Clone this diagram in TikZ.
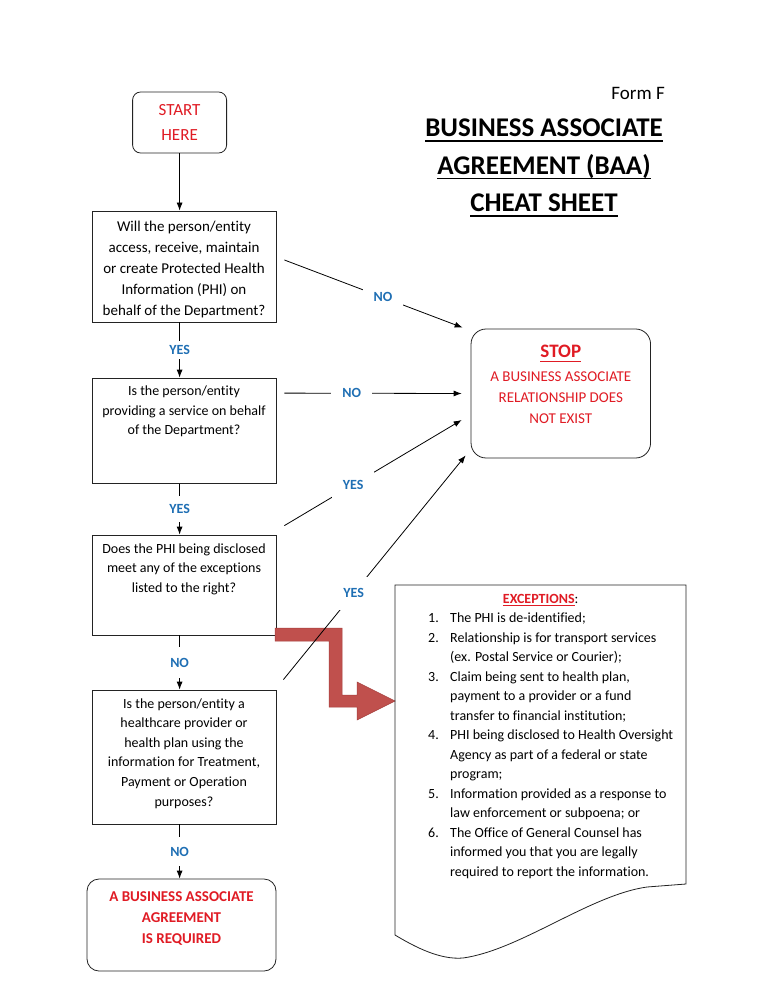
\documentclass[tikz,border=0pt]{standalone}
\usepackage{fontspec}
\setmainfont{Carlito}[Ligatures=NoCommon]
\usetikzlibrary{arrows.meta}
\definecolor{txtred}{RGB}{224,27,36}
\definecolor{lblblue}{RGB}{31,111,180}
\definecolor{arrred}{RGB}{192,80,77}
\definecolor{arrredd}{RGB}{165,62,60}
\definecolor{edge}{RGB}{35,35,35}
\newcommand\myul[3]{\leavevmode\setbox0\hbox{#3}\rlap{\rule[-#1]{\wd0}{#2}}\box0}
\newcommand\bxt[4]{\parbox[c][#1][t]{#2}{\centering\vspace*{#3}\strut#4}}
\newcommand\itm[2]{\mbox{\hspace*{33pt}\makebox[22pt][l]{#1}#2}}
\newcommand\cnt[1]{\mbox{\hspace*{55pt}#1}}
\begin{document}
\begin{tikzpicture}[x=1pt,y=-1pt,
  box/.style={draw=edge, line width=0.8pt, inner sep=0pt, fill=white},
  rbox/.style={box, rounded corners=#1},
  arr/.style={draw=black, line width=0.8pt, -{Latex[length=8pt,width=6pt]}},
  lbl/.style={fill=white, text=lblblue, font=\fontsize{14}{16}\selectfont\bfseries, inner xsep=2pt, inner ysep=4pt}
]
\useasboundingbox[fill=white] (0,0) rectangle (773,1000);

% title
\node[anchor=base east, inner sep=0pt, font=\fontsize{19}{23}\selectfont] (form) at (665,100) {Form F};
\node[anchor=base, inner sep=0pt, font=\fontsize{27}{37.5}\selectfont\bfseries] (title) at (544,137)
  {\parbox[t]{320pt}{\centering\myul{4.9pt}{1.8pt}{BUSINESS ASSOCIATE}\\\myul{4.9pt}{1.8pt}{AGREEMENT (BAA)}\\\myul{4.9pt}{1.8pt}{CHEAT SHEET}}};

% flow boxes
\node[rbox=8pt, font=\fontsize{17}{24.7}\selectfont, text=txtred] (start) at (179.6,122.5)
  {\bxt{61pt}{94pt}{6.7pt}{START\\HERE}};
\node[box, font=\fontsize{15}{21}\selectfont] (b1) at (184,266.5)
  {\bxt{111pt}{184pt}{6pt}{Will the person/entity\\access, receive, maintain\\or create Protected Health\\Information (PHI) on\\behalf of the Department?}};
\node[box, font=\fontsize{14}{19.6}\selectfont] (b2) at (184,430.65)
  {\bxt{105.3pt}{184pt}{4pt}{Is the person/entity\\providing a service on behalf\\of the Department?}};
\node[box, font=\fontsize{14}{19.6}\selectfont] (b3) at (184,585)
  {\bxt{100pt}{184pt}{4.3pt}{Does the PHI being disclosed\\meet any of the exceptions\\listed to the right?}};
\node[box, font=\fontsize{14}{19.6}\selectfont] (b4) at (184,757)
  {\bxt{134pt}{184pt}{4.3pt}{Is the person/entity a\\healthcare provider or\\health plan using the\\information for Treatment,\\Payment or Operation\\purposes?}};
\node[rbox=12pt, font=\fontsize{15}{21}\selectfont\bfseries, text=txtred] (fin) at (181.5,925)
  {\bxt{92pt}{189pt}{8pt}{A BUSINESS ASSOCIATE\\AGREEMENT\\IS REQUIRED}};
\node[rbox=15pt, text=txtred] (stop) at (560.8,393.5)
  {\parbox[c][129pt][t]{179.5pt}{\centering\vspace*{12.6pt}\fontsize{19}{23}\selectfont\bfseries\strut\myul{4.5pt}{1.4pt}{STOP}\par
   \vspace{3.3pt}\fontsize{15}{20.7}\selectfont\mdseries A BUSINESS ASSOCIATE\\RELATIONSHIP DOES\\NOT EXIST}};

% red bent arrow
\fill[arrred, draw=arrredd, line width=0.5pt] (275,628) -- (342,628) -- (342,695) -- (357,695) -- (357,682)
  -- (395,701) -- (357,720) -- (357,707) -- (329,707) -- (329,641) -- (275,641) -- cycle;

% exceptions document shape
\draw[edge, line width=0.8pt] (395,585) -- (686,585) -- (686,884) -- (647,887)
  .. controls (590,895) and (520,950) .. (463,958)
  .. controls (440,960) and (415,947) .. (395,935) -- cycle;
\node[anchor=base west, inner sep=0pt, font=\fontsize{14}{19.5}\selectfont] (exc) at (395,603.3)
  {\parbox[t]{291pt}{\raggedright
   \makebox[\linewidth]{\textcolor{txtred}{\bfseries\myul{2.8pt}{1.1pt}{EXCEPTIONS}}:}\\
   \itm{1.}{The PHI is de-identified;}\\
   \itm{2.}{Relationship is for transport services}\\
   \cnt{(ex. Postal Service or Courier);}\\
   \itm{3.}{Claim being sent to health plan,}\\
   \cnt{payment to a provider or a fund}\\
   \cnt{transfer to financial institution;}\\
   \itm{4.}{PHI being disclosed to Health Oversight}\\
   \cnt{Agency as part of a federal or state}\\
   \cnt{program;}\\
   \itm{5.}{Information provided as a response to}\\
   \cnt{law enforcement or subpoena; or}\\
   \itm{6.}{The Office of General Counsel has}\\
   \cnt{informed you that you are legally}\\
   \cnt{required to report the information.}}};

% vertical connectors
\draw[arr] (start) -- (start |- b1.north);
\draw[arr] (b1.south -| start) -- node[lbl, inner ysep=4pt] {YES} (b2.north -| start);
\draw[arr] (b2.south -| start) -- node[lbl, inner ysep=8.3pt] {YES} (b3.north -| start);
\draw[arr] (b3.south -| start) -- node[lbl, inner ysep=11pt] {NO} (b4.north -| start);
\draw[arr] (b4.south -| start) -- node[lbl, inner ysep=9.7pt] {NO} (fin.north -| start);

% connectors to STOP
\draw[arr] ([xshift=8pt,yshift=6.5pt]b1.east) -- node[lbl, pos=0.553, inner xsep=11pt, inner ysep=5pt] {NO} ([xshift=-8pt,yshift=1pt]stop.north west);
\draw[arr] ([xshift=8pt,yshift=-15.5pt]b2.north east) -- node[lbl, pos=0.38, inner xsep=11pt, inner ysep=3pt] {NO} ([xshift=-9pt]stop.west);
\draw[arr] ([xshift=8pt,yshift=9pt]b3.north east) -- node[lbl, pos=0.388, inner xsep=11pt, inner ysep=9pt] {YES} ([xshift=-9pt,yshift=-26.5pt]stop.west);
\draw[arr] ([xshift=7pt,yshift=10pt]b4.north east) -- node[lbl, pos=0.385, inner xsep=4pt, inner ysep=12pt] {YES} ([xshift=-5pt,yshift=3pt]stop.south west);
\end{tikzpicture}
\end{document}
